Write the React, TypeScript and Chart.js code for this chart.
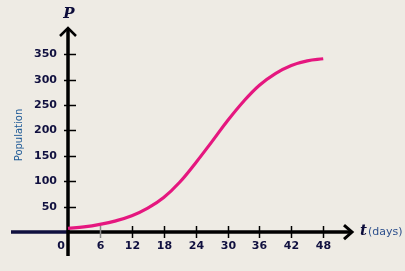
import React, { useEffect, useRef } from "react";
import { Chart, registerables } from "chart.js";

Chart.register(...registerables);

const days = [0, 3, 6, 9, 12, 15, 18, 21, 24, 27, 30, 33, 36, 39, 42, 45, 48];
const population = [7, 10, 15, 22, 32, 47, 68, 98, 136, 177, 219, 257, 289, 312, 328, 337, 341];
const xTicks = [6, 12, 18, 24, 30, 36, 42, 48];
const yTicks = [50, 100, 150, 200, 250, 300, 350];
const xTitle = "t";
const xUnit = "(days)";
const yTitle = "P";
const yLabel = "Population";

const BG = "#eeebe4";
const NAVY = "#10103f";

const axesPlugin = {
  id: "customAxes",
  beforeDatasetsDraw(chart: any) {
    const { ctx, chartArea, scales } = chart;
    const xs = scales.x;
    const ys = scales.y;
    const x0 = xs.getPixelForValue(0);
    const y0 = ys.getPixelForValue(0);
    ctx.save();
    // x axis
    ctx.lineCap = "butt";
    ctx.lineWidth = 3.5;
    ctx.strokeStyle = NAVY;
    ctx.beginPath();
    ctx.moveTo(chartArea.left, y0);
    ctx.lineTo(x0, y0);
    ctx.stroke();
    ctx.strokeStyle = "#000";
    ctx.beginPath();
    ctx.moveTo(x0, y0);
    ctx.lineTo(chartArea.right, y0);
    ctx.stroke();
    // x arrow
    ctx.lineWidth = 3;
    ctx.lineJoin = "miter";
    ctx.beginPath();
    ctx.moveTo(chartArea.right - 8, y0 - 7);
    ctx.lineTo(chartArea.right, y0);
    ctx.lineTo(chartArea.right - 8, y0 + 7);
    ctx.stroke();
    // y axis
    ctx.lineWidth = 3.5;
    ctx.strokeStyle = "#000";
    ctx.beginPath();
    ctx.moveTo(x0, chartArea.bottom);
    ctx.lineTo(x0, chartArea.top + 1);
    ctx.stroke();
    ctx.lineWidth = 2.5;
    ctx.beginPath();
    ctx.moveTo(x0 - 8, chartArea.top + 8);
    ctx.lineTo(x0, chartArea.top);
    ctx.lineTo(x0 + 8, chartArea.top + 8);
    ctx.stroke();
    // y ticks
    ctx.lineWidth = 1.5;
    ctx.font = "bold 11px 'DejaVu Sans'";
    ctx.fillStyle = NAVY;
    ctx.textAlign = "right";
    ctx.textBaseline = "middle";
    yTicks.forEach((v) => {
      const py = Math.round(ys.getPixelForValue(v)) + 0.5;
      ctx.strokeStyle = "#000";
      ctx.beginPath();
      ctx.moveTo(x0 - 4, py);
      ctx.lineTo(x0 + 8, py);
      ctx.stroke();
      ctx.fillText(String(v), x0 - 11, py);
    });
    // x ticks
    ctx.textAlign = "center";
    xTicks.forEach((v, i) => {
      const px = Math.round(xs.getPixelForValue(v)) + 0.5;
      ctx.strokeStyle = i === 0 ? "#8a8a8a" : "#000";
      ctx.beginPath();
      ctx.moveTo(px, y0 - 6);
      ctx.lineTo(px, y0 + 6);
      ctx.stroke();
      ctx.fillText(String(v), px, y0 + 14);
    });
    ctx.fillText("0", x0 - 7, y0 + 14);
    // titles
    ctx.font = "italic bold 15px 'DejaVu Serif'";
    ctx.fillStyle = "#0c0c3a";
    ctx.textAlign = "center";
    ctx.fillText(yTitle, x0 + 1, chartArea.top - 14);
    ctx.textAlign = "left";
    ctx.fillText(xTitle, chartArea.right + 8, y0 - 1);
    ctx.font = "11px 'DejaVu Sans'";
    ctx.fillStyle = "#2c4f8c";
    ctx.fillText(xUnit, chartArea.right + 16, y0);
    ctx.save();
    ctx.translate(19, 135);
    ctx.rotate(-Math.PI / 2);
    ctx.textAlign = "center";
    ctx.font = "10px 'DejaVu Sans'";
    ctx.fillStyle = "#1e5a96";
    ctx.fillText(yLabel, 0, 0);
    ctx.restore();
    ctx.restore();
  },
};

export default function App() {
  const ref = useRef<HTMLCanvasElement>(null);
  useEffect(() => {
    document.body.style.margin = "0";
    document.body.style.background = BG;
    const chart = new Chart(ref.current!, {
      type: "line",
      data: {
        datasets: [
          {
            data: days.map((d, i) => ({ x: d, y: population[i] })),
            borderColor: "#e5177f",
            borderWidth: 3.2,
            pointRadius: 0,
            tension: 0.4,
            fill: false,
          },
        ],
      },
      options: {
        responsive: false,
        animation: false,
        layout: { padding: { left: 11, right: 53, top: 28, bottom: 15 } },
        plugins: { legend: { display: false }, tooltip: { enabled: false } },
        scales: {
          x: { type: "linear", display: false, min: -10.72, max: 53.41 },
          y: { type: "linear", display: false, min: -47.2, max: 401.6 },
        },
      },
      plugins: [axesPlugin],
    });
    return () => chart.destroy();
  }, []);
  return (
    <div style={{ width: 405, height: 271, background: BG }}>
      <canvas ref={ref} width={405} height={271} style={{ display: "block" }} />
    </div>
  );
}
